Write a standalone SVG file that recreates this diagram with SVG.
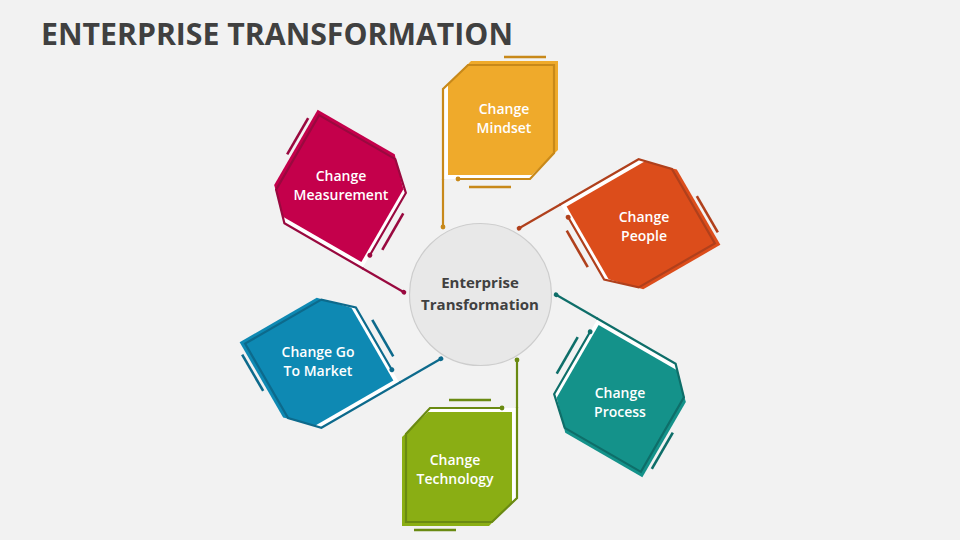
<svg xmlns="http://www.w3.org/2000/svg" width="960" height="540" viewBox="0 0 960 540">
<style>
.halo{fill:#ffffff;stroke:none}
.frame{fill:none;stroke-width:2.2;stroke-linejoin:miter}
.deco{stroke-width:2.6;fill:none}
.conn{stroke-width:2.2;fill:none}
.lbl{font-family:"Open Sans","Liberation Sans",sans-serif;font-weight:600;font-size:14px;fill:#ffffff;text-anchor:middle}
.ctr{font-family:"Open Sans","Liberation Sans",sans-serif;font-weight:700;font-size:15px;fill:#404040;text-anchor:middle}
.title{font-family:"Open Sans","Liberation Sans",sans-serif;font-weight:700;font-size:30px;fill:#404040}
</style>
<defs>
<marker id="dm1" viewBox="0 0 6 6" refX="3" refY="3" markerWidth="6" markerHeight="6" markerUnits="userSpaceOnUse"><circle cx="3" cy="3" r="2.4" fill="#C8891A"/></marker>
<marker id="dm2" viewBox="0 0 6 6" refX="3" refY="3" markerWidth="6" markerHeight="6" markerUnits="userSpaceOnUse"><circle cx="3" cy="3" r="2.4" fill="#B0401C"/></marker>
<marker id="dm3" viewBox="0 0 6 6" refX="3" refY="3" markerWidth="6" markerHeight="6" markerUnits="userSpaceOnUse"><circle cx="3" cy="3" r="2.4" fill="#0E6E69"/></marker>
<marker id="dm4" viewBox="0 0 6 6" refX="3" refY="3" markerWidth="6" markerHeight="6" markerUnits="userSpaceOnUse"><circle cx="3" cy="3" r="2.4" fill="#6A8A12"/></marker>
<marker id="dm5" viewBox="0 0 6 6" refX="3" refY="3" markerWidth="6" markerHeight="6" markerUnits="userSpaceOnUse"><circle cx="3" cy="3" r="2.4" fill="#0D6A8C"/></marker>
<marker id="dm6" viewBox="0 0 6 6" refX="3" refY="3" markerWidth="6" markerHeight="6" markerUnits="userSpaceOnUse"><circle cx="3" cy="3" r="2.4" fill="#99093F"/></marker>
</defs>
<rect x="0" y="0" width="960" height="540" fill="#F2F2F2"/>
<text class="title" x="41" y="45" textLength="472" lengthAdjust="spacingAndGlyphs">ENTERPRISE TRANSFORMATION</text>

<g id="connectors">
<line class="conn" x1="443" y1="179" x2="443" y2="227" stroke="#C8891A" marker-end="url(#dm1)"/>
<line class="conn" x1="443" y1="179" x2="443" y2="227" stroke="#B0401C" marker-end="url(#dm2)" transform="rotate(60 480 293.5)"/>
<line class="conn" x1="443" y1="179" x2="443" y2="227" stroke="#0E6E69" marker-end="url(#dm3)" transform="rotate(120 480 293.5)"/>
<line class="conn" x1="443" y1="179" x2="443" y2="227" stroke="#6A8A12" marker-end="url(#dm4)" transform="rotate(180 480 293.5)"/>
<line class="conn" x1="443" y1="179" x2="443" y2="227" stroke="#0D6A8C" marker-end="url(#dm5)" transform="rotate(240 480 293.5)"/>
<line class="conn" x1="443" y1="179" x2="443" y2="227" stroke="#99093F" marker-end="url(#dm6)" transform="rotate(300 480 293.5)"/>
</g>

<g id="center">
<circle cx="480.5" cy="294.5" r="71" fill="#E8E8E8" stroke="#CDCDCD" stroke-width="1.2"/>
<text class="ctr" x="480" y="288">Enterprise</text>
<text class="ctr" x="480" y="310">Transformation</text>
</g>

<g id="node-mindset">
<g>
<polygon class="halo" points="443,89 468,65 554,65 554,153 530,179 443,179"/>
<polygon points="448,85 471,61 558,61 558,150 532,175 448,175" fill="#EFAA2B"/>
<polyline class="frame" points="458,179 530,179 554,153 554,65 468,65 443,89 443,180" stroke="#C8891A" marker-start="url(#dm1)"/>
<line class="deco" x1="504" y1="57" x2="546" y2="57" stroke="#C8891A"/>
<line class="deco" x1="469" y1="187" x2="511" y2="187" stroke="#C8891A"/>
</g>
<text class="lbl" x="504" y="114">Change</text>
<text class="lbl" x="504" y="133">Mindset</text>
</g>

<g id="node-people">
<g transform="rotate(60 480 293.5)">
<polygon class="halo" points="443,89 468,65 554,65 554,153 530,179 443,179"/>
<polygon points="448,85 471,61 558,61 558,150 532,175 448,175" fill="#DC4D1B"/>
<polyline class="frame" points="458,179 530,179 554,153 554,65 468,65 443,89 443,180" stroke="#B0401C" marker-start="url(#dm2)"/>
<line class="deco" x1="504" y1="57" x2="546" y2="57" stroke="#B0401C"/>
<line class="deco" x1="469" y1="187" x2="511" y2="187" stroke="#B0401C"/>
</g>
<text class="lbl" x="644" y="222">Change</text>
<text class="lbl" x="644" y="241">People</text>
</g>

<g id="node-process">
<g transform="rotate(120 480 293.5)">
<polygon class="halo" points="443,89 468,65 554,65 554,153 530,179 443,179"/>
<polygon points="448,85 471,61 558,61 558,150 532,175 448,175" fill="#14928A"/>
<polyline class="frame" points="458,179 530,179 554,153 554,65 468,65 443,89 443,180" stroke="#0E6E69" marker-start="url(#dm3)"/>
<line class="deco" x1="504" y1="57" x2="546" y2="57" stroke="#0E6E69"/>
<line class="deco" x1="469" y1="187" x2="511" y2="187" stroke="#0E6E69"/>
</g>
<text class="lbl" x="620" y="398">Change</text>
<text class="lbl" x="620" y="417">Process</text>
</g>

<g id="node-technology">
<g transform="rotate(180 480 293.5)">
<polygon class="halo" points="443,89 468,65 554,65 554,153 530,179 443,179"/>
<polygon points="448,85 471,61 558,61 558,150 532,175 448,175" fill="#8AAE14"/>
<polyline class="frame" points="458,179 530,179 554,153 554,65 468,65 443,89 443,180" stroke="#6A8A12" marker-start="url(#dm4)"/>
<line class="deco" x1="504" y1="57" x2="546" y2="57" stroke="#6A8A12"/>
<line class="deco" x1="469" y1="187" x2="511" y2="187" stroke="#6A8A12"/>
</g>
<text class="lbl" x="455" y="465">Change</text>
<text class="lbl" x="455" y="484">Technology</text>
</g>

<g id="node-market">
<g transform="rotate(240 480 293.5)">
<polygon class="halo" points="443,89 468,65 554,65 554,153 530,179 443,179"/>
<polygon points="448,85 471,61 558,61 558,150 532,175 448,175" fill="#0E89B3"/>
<polyline class="frame" points="458,179 530,179 554,153 554,65 468,65 443,89 443,180" stroke="#0D6A8C" marker-start="url(#dm5)"/>
<line class="deco" x1="504" y1="57" x2="546" y2="57" stroke="#0D6A8C"/>
<line class="deco" x1="469" y1="187" x2="511" y2="187" stroke="#0D6A8C"/>
</g>
<text class="lbl" x="318" y="357">Change Go</text>
<text class="lbl" x="318" y="376">To Market</text>
</g>

<g id="node-measurement">
<g transform="rotate(300 480 293.5)">
<polygon class="halo" points="443,89 468,65 554,65 554,153 530,179 443,179"/>
<polygon points="448,85 471,61 558,61 558,150 532,175 448,175" fill="#C4004B"/>
<polyline class="frame" points="458,179 530,179 554,153 554,65 468,65 443,89 443,180" stroke="#99093F" marker-start="url(#dm6)"/>
<line class="deco" x1="504" y1="57" x2="546" y2="57" stroke="#99093F"/>
<line class="deco" x1="469" y1="187" x2="511" y2="187" stroke="#99093F"/>
</g>
<text class="lbl" x="341" y="181">Change</text>
<text class="lbl" x="341" y="200">Measurement</text>
</g>
</svg>
